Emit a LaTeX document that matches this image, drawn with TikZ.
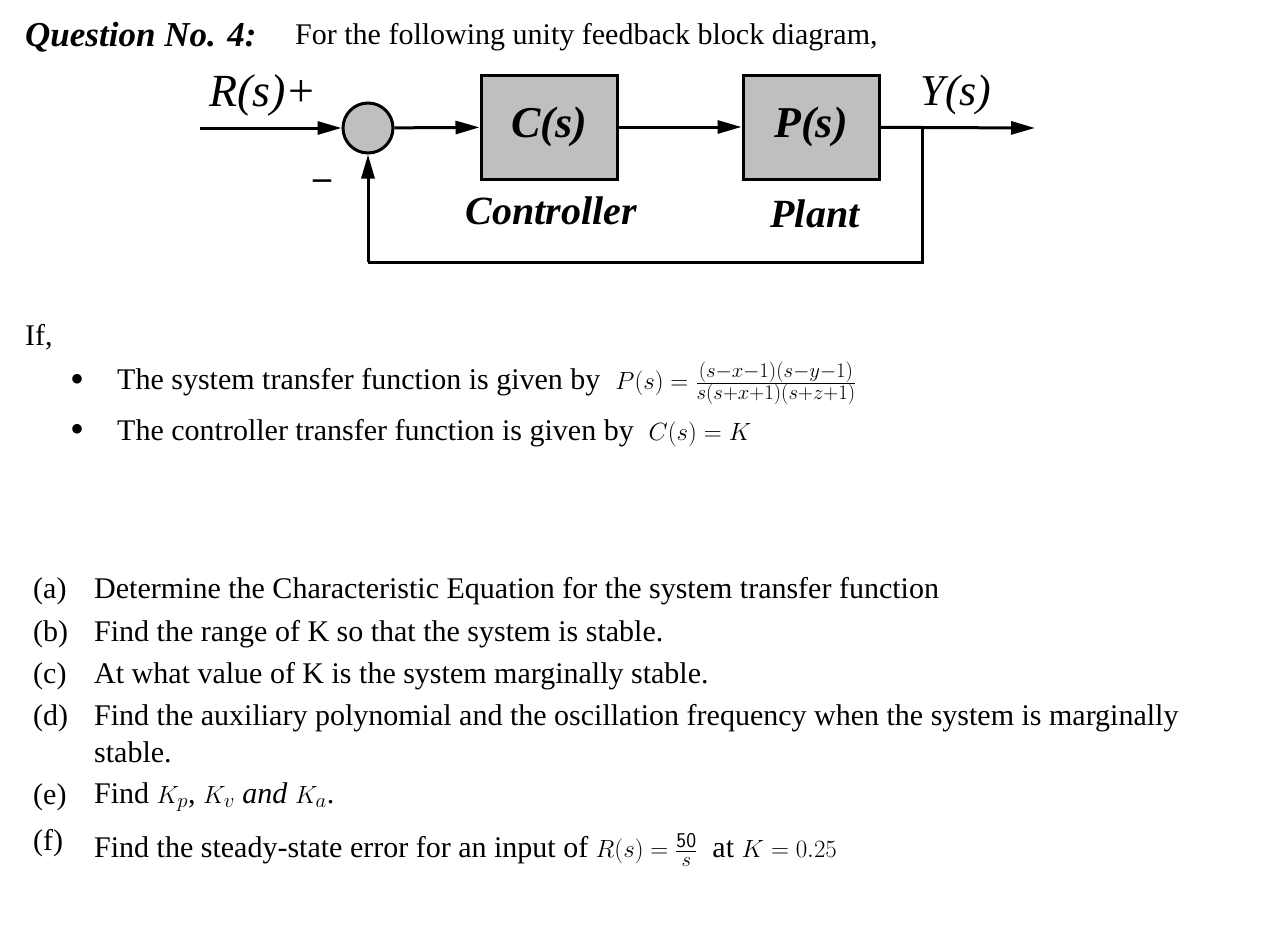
\documentclass[tikz,border=0pt]{standalone}
\usepackage{fontspec}
\setmainfont{Liberation Serif}
\usetikzlibrary{arrows.meta}
\tikzset{
 txt/.style={anchor=west,inner sep=0pt,font=\fontsize{30}{33}\selectfont},
 blk/.style={draw,line width=3pt,fill=gray!50,minimum width=136pt,minimum height=104pt,font=\fontsize{44}{46}\selectfont\bfseries\itshape},
 lbl/.style={inner sep=0pt,font=\fontsize{40}{44}\selectfont\bfseries\itshape},
 sig/.style={line width=3pt,-{Triangle[length=24pt,width=13pt]}},
 ln/.style={line width=3pt}
}
\begin{document}
\begin{tikzpicture}[x=1pt,y=-1pt]
\useasboundingbox (0,0) rectangle (1284,945);
\node[txt,font=\fontsize{35}{37}\selectfont\bfseries\itshape] (q) at (25,37) {Question No. 4:};
\node[txt,font=\fontsize{30}{33}\selectfont] (intro) at (295,37) {For the following unity feedback block diagram,};
% diagram
\node[draw,circle,line width=3pt,fill=gray!50,minimum size=50pt,inner sep=0pt] (sum) at (368,128) {};
\node[blk] (C) at (549,127) {C(s)};
\node[blk] (P) at (811,127) {P(s)};
\coordinate (in) at (200,128);
\coordinate (out) at (1035,128);
\coordinate (br) at (922,128);
\coordinate (fb1) at (922,262);
\coordinate (fb2) at (368,262);
\draw[sig] (in) -- (sum);
\draw[sig] (sum) -- (C);
\draw[sig] (C) -- (P);
\draw[sig] (P) -- (out);
\draw[ln] (br) -- (fb1) -- (fb2);
\draw[sig] (fb2) -- (sum);
\node[inner sep=0pt,font=\fontsize{46}{48}\selectfont\itshape] (R) at (263,95) {R(s)+};
\node[inner sep=0pt,font=\fontsize{44}{46}\selectfont\itshape] (Y) at (956,95) {Y(s)};
\node[inner sep=0pt,font=\fontsize{36}{40}\selectfont\bfseries] (minus) at (322,185) {\textendash};
\node[lbl] (cl) at (551,211) {Controller};
\node[lbl] (pl) at (815,214) {Plant};
% body text
\node[txt] (if) at (25,337) {If,};
\node[txt,font=\fontsize{40}{40}\selectfont] (b1) at (70,383) {\textbullet};
\node[txt] (t1) at (117,383) {The system transfer function is given by \ $P(s)=\frac{(s-x-1)(s-y-1)}{s(s+x+1)(s+z+1)}$};
\node[txt,font=\fontsize{40}{40}\selectfont] (b2) at (70,433) {\textbullet};
\node[txt] (t2) at (117,433) {The controller transfer function is given by \ $C(s)=K$};
\node[txt] (la) at (33,591) {(a)};
\node[txt] (ta) at (94,591) {Determine the Characteristic Equation for the system transfer function};
\node[txt] (lb) at (33,634) {(b)};
\node[txt] (tb) at (94,634) {Find the range of K so that the system is stable.};
\node[txt] (lc) at (33,676) {(c)};
\node[txt] (tc) at (94,676) {At what value of K is the system marginally stable.};
\node[txt] (ld) at (33,718) {(d)};
\node[txt] (td) at (94,718) {Find the auxiliary polynomial and the oscillation frequency when the system is marginally};
\node[txt] (td2) at (94,752) {stable.};
\node[txt] (le) at (33,797) {(e)};
\node[txt] (te) at (94,797) {Find $K_p$, $K_v$ \textit{and} $K_a$.};
\node[txt] (lf) at (33,843) {(f)};
\node[txt] (tf) at (94,850) {Find the steady-state error for an input of $R(s)=\frac{\mathsf{50}}{s}$ \ at $K=0.25$};
\end{tikzpicture}
\end{document}
